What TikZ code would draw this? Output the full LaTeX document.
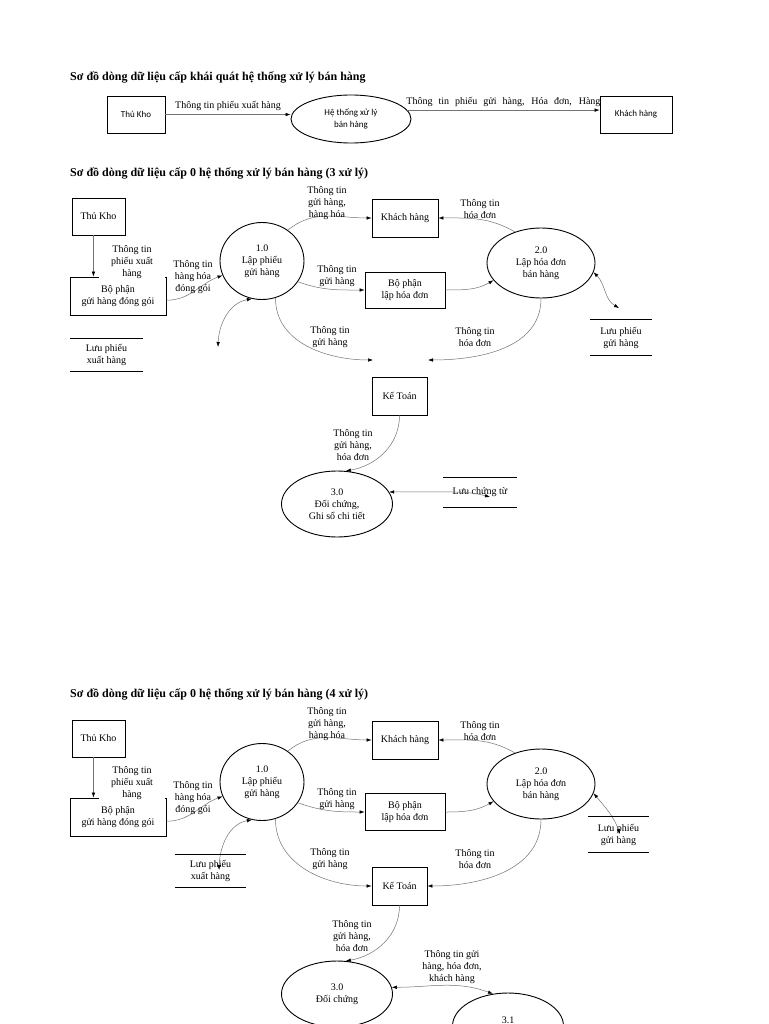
\documentclass[tikz,border=0pt]{standalone}
\usepackage{fontspec}
\setmainfont{Liberation Serif}
\newfontfamily\calibri{Carlito}
\usetikzlibrary{arrows.meta,shapes.geometric,positioning}

\newcommand{\flowfont}{\fontsize{10}{12}\selectfont}
\newcommand{\headfont}{\fontsize{12}{14}\selectfont\bfseries}
\newcommand{\sansbox}{\calibri\fontsize{9}{12}\selectfont}

\begin{document}
\begin{tikzpicture}[x=1pt,y=-1pt,
    box/.style={draw, line width=0.8pt, align=center, font=\flowfont, inner sep=1pt},
    proc/.style={ellipse, draw, line width=0.9pt, align=center, font=\flowfont, inner sep=0pt},
    store/.style={align=center, font=\flowfont, inner sep=0pt},
    storeline/.style={line width=0.8pt},
    lbl/.style={font=\flowfont, align=center, inner sep=0pt},
    heading/.style={font=\headfont, anchor=west, inner sep=0pt},
    flow/.style={draw=black!55, line width=0.5pt, -{Latex[length=5pt,width=3.5pt,color=black]}},
    flowboth/.style={draw=black!55, line width=0.5pt, {Latex[length=5pt,width=3.5pt,color=black]}-{Latex[length=5pt,width=3.5pt,color=black]}}]

    \useasboundingbox (0,0) rectangle (768,1024);
    \clip (0,0) rectangle (768,1024);
    \fill[white] (0,0) rectangle (768,1024);

    % ---------- Cap khai quat ----------
    \node[heading] (t0) at (70,77) {Sơ đồ dòng dữ liệu cấp khái quát hệ thống xử lý bán hàng};
    \node[box, font=\sansbox, minimum width=58, minimum height=37] (thukho0) at (136,114.5) {Thủ Kho};
    \node[proc, font=\sansbox, minimum width=120, minimum height=48] (heth) at (351,119) {Hệ thống xử lý\\bán hàng};
    \node[box, font=\sansbox, minimum width=72, minimum height=37] (khach0) at (636,114.5) {Khách hàng};

    \draw[flow] (thukho0.east) -- (thukho0.east -| heth.west)
        node[lbl, midway, above=4pt] {Thông tin phiếu xuất hàng};
    \draw[flow] (heth.9) -- (heth.9 -| khach0.west)
        node[lbl, midway, above=3pt] {\makebox[194pt][s]{Thông tin phiếu gửi hàng, Hóa đơn, Hàng}};

    % ---------- Cap 0 (3 xu ly) ----------
    \node[heading] (t1) at (70,173) {Sơ đồ dòng dữ liệu cấp 0 hệ thống xử lý bán hàng (3 xử lý)};
    \node[box, minimum width=53, minimum height=37] (thukhoa) at (98.5,216.5) {Thủ Kho};
    \node[box, minimum width=96, minimum height=38] (goia) at (118,296) {Bộ phận\\gửi hàng đóng gói};
    \node[proc, minimum width=84, minimum height=77] (p1a) at (262,261) {1.0\\Lập phiếu\\gửi hàng};
    \node[box, minimum width=66, minimum height=38] (khacha) at (405,218) {Khách hàng};
    \node[box, minimum width=80, minimum height=36] (lapa) at (405,290) {Bộ phận\\lập hóa đơn};
    \node[proc, minimum width=108, minimum height=70] (p2a) at (541,263) {2.0\\Lập hóa đơn\\bán hàng};
    \node[store, minimum width=73, minimum height=32] (luuxa) at (106.5,355) {Lưu phiếu\\xuất hàng};
    \node[store, minimum width=62, minimum height=35] (luugha) at (621,337.5) {Lưu phiếu\\gửi hàng};
    \node[box, minimum width=55, minimum height=38] (ketoana) at (399.5,396) {Kế Toán};
    \node[proc, minimum width=111, minimum height=66] (p3a) at (337,504) {3.0\\Đối chứng,\\Ghi sổ chi tiết};
    \node[store, minimum width=74, minimum height=29] (luucta) at (480,492.5) {Lưu chứng từ};

    \coordinate (ka1) at (373,360);
    \coordinate (ka2) at (428,360);
    \coordinate (lxa) at (218,347);
    \coordinate (lga) at (619,308);
    \coordinate (lca) at (490,497);

    \node[lbl, fill=white, inner sep=1pt, minimum width=66] at (132,262) {Thông tin\\phiếu xuất\\hàng};
    \draw[flow] (thukhoa.-105) -- (thukhoa.-105 |- goia.north);
    \draw[flow] (goia.-5) to[out=0,in=200] (p1a.200);
    \node[lbl] at (193,277) {Thông tin\\hàng hóa\\đóng gói};
    \draw[flow] (p1a.50) to[out=40,in=180] (khacha.west);
    \node[lbl] at (327,203) {Thông tin\\gửi hàng,\\hàng hóa};
    \draw[flow] (p2a.130) to[out=150,in=0] (khacha.east);
    \node[lbl] at (480,209) {Thông tin\\hóa đơn};
    \draw[flow] (p1a.-30) to[out=-20,in=180] (lapa.west);
    \node[lbl] at (337,276) {Thông tin\\gửi hàng};
    \draw[flow] (lapa.east) to[out=0,in=210] (p2a.200);
    \draw[flowboth] (p2a.-10) to[out=-45,in=150] (lga);
    \draw[flow] (p1a.-70) to[out=-90,in=180] (ka1);
    \node[lbl] at (330,337) {Thông tin\\gửi hàng};
    \draw[flow] (p2a.south) to[out=-90,in=0] (ka2);
    \node[lbl] at (475,337) {Thông tin\\hóa đơn};
    \draw[flowboth] (lxa) to[out=88,in=190] (p1a.-105);
    \draw[flow] (ketoana.south) to[out=-90,in=10] (p3a.75);
    \node[lbl] at (353,445) {Thông tin\\gửi hàng,\\hóa đơn};
    \draw[flowboth] (p3a.13) -- (p3a.13 -| luucta.west) to[out=0,in=165] (lca);

    % ---------- Cap 0 (4 xu ly) ----------
    \node[heading] (t2) at (70,694) {Sơ đồ dòng dữ liệu cấp 0 hệ thống xử lý bán hàng (4 xử lý)};
    \node[box, minimum width=53, minimum height=37] (thukhob) at (98.5,738.5) {Thủ Kho};
    \node[box, minimum width=96, minimum height=38] (goib) at (118,817) {Bộ phận\\gửi hàng đóng gói};
    \node[proc, minimum width=84, minimum height=77] (p1b) at (262,782) {1.0\\Lập phiếu\\gửi hàng};
    \node[box, minimum width=66, minimum height=38] (khachb) at (405,740) {Khách hàng};
    \node[box, minimum width=80, minimum height=37] (lapb) at (405,812) {Bộ phận\\lập hóa đơn};
    \node[proc, minimum width=108, minimum height=70] (p2b) at (541,784) {2.0\\Lập hóa đơn\\bán hàng};
    \node[store, minimum width=71, minimum height=32] (luuxb) at (210.5,871) {Lưu phiếu\\xuất hàng};
    \node[store, minimum width=61, minimum height=35] (luughb) at (618.5,834.5) {Lưu phiếu\\gửi hàng};
    \node[box, minimum width=55, minimum height=38] (ketoanb) at (399.5,886) {Kế Toán};
    \node[proc, minimum width=111, minimum height=66] (p3b) at (337,994) {3.0\\Đối chứng};
    \node[proc, minimum width=111, minimum height=66] (p31b) at (508,1026) {};
    \node[lbl, anchor=base] (p31t) at ([yshift=3pt]p31b.center) {3.1};

    \coordinate (lxb) at (219,870);
    \coordinate (lgb) at (620,834);

    \node[lbl, fill=white, inner sep=1pt, minimum width=66] at (132,783) {Thông tin\\phiếu xuất\\hàng};
    \draw[flow] (thukhob.-105) -- (thukhob.-105 |- goib.north);
    \draw[flow] (goib.-5) to[out=0,in=200] (p1b.200);
    \node[lbl] at (193,798) {Thông tin\\hàng hóa\\đóng gói};
    \draw[flow] (p1b.50) to[out=40,in=180] (khachb.west);
    \node[lbl] at (327,724.5) {Thông tin\\gửi hàng,\\hàng hóa};
    \draw[flow] (p2b.130) to[out=150,in=0] (khachb.east);
    \node[lbl] at (480,731) {Thông tin\\hóa đơn};
    \draw[flow] (p1b.-30) to[out=-20,in=180] (lapb.west);
    \node[lbl] at (337,799) {Thông tin\\gửi hàng};
    \draw[flow] (lapb.east) to[out=0,in=210] (p2b.200);
    \draw[flowboth] (p2b.-10) to[out=-50,in=110] (lgb);
    \draw[flow] (p1b.-70) to[out=-90,in=180] (ketoanb.west);
    \node[lbl] at (330,859) {Thông tin\\gửi hàng};
    \draw[flow] (p2b.south) to[out=-90,in=0] (ketoanb.east);
    \node[lbl] at (475,859) {Thông tin\\hóa đơn};
    \draw[flowboth] (lxb) to[out=88,in=190] (p1b.-105);
    \draw[flow] (ketoanb.south) to[out=-90,in=10] (p3b.75);
    \node[lbl] at (352,936) {Thông tin\\gửi hàng,\\hóa đơn};
    \draw[flowboth] (p3b.7) to[out=0,in=160] (p31b.115);
    \node[lbl] at (452,967) {Thông tin gửi\\hàng, hóa đơn,\\khách hàng};

    % store lines
    \foreach \s in {luuxa,luugha,luucta,luuxb,luughb}
        \draw[storeline] (\s.north west) -- (\s.north east) (\s.south west) -- (\s.south east);
\end{tikzpicture}
\end{document}
